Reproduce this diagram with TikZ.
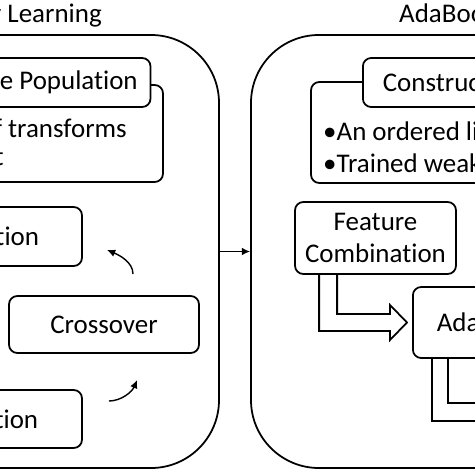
\documentclass[tikz,border=0pt]{standalone}
\usepackage{fontspec}
\setmainfont{Carlito}[Ligatures=NoCommon]
\usetikzlibrary{positioning, arrows.meta}
\tikzset{
x=0.03cm, y=-0.03cm, % one unit is one pixel of the sketch, y grows downwards
>={Latex[length=7pt,width=6.5pt]}, % the arrow tip of every arrow
every node/.append style={font=\fontsize{23}{27}\selectfont}, % text size
panel/.style={draw, line width=1.5pt, rounded corners=2.04cm, inner sep=0pt}, % the two big frames
stage/.style={draw, line width=1.5pt, rounded corners=0.25cm, fill=white, inner sep=0pt}, % boxes of the steps
hollow/.style={line width=1.5pt, line join=miter}, % outline of the wide arrows
}

\begin{document}
\begin{tikzpicture}
\useasboundingbox (0,0) rectangle (474,474);

% the two frames
\node[panel, minimum width=12.57cm, minimum height=12.99cm] (evo) at (9.5,251.5) {};
\node[panel, minimum width=12.57cm, minimum height=12.99cm] (boost) at (460.5,251.5) {};
\node[anchor=base east, inner sep=0pt] (evotitle) at (102,22) {Evolutionary Learning};
\node[anchor=base west, inner sep=0pt] (boosttitle) at (399,22) {AdaBoost};

\draw[->, line width=1.2pt] (evo) -- (boost);

% left frame
\node[stage, minimum width=8.1cm, minimum height=2.91cm] (popinfo) at (28,133.5) {};
\node[stage, minimum width=7.23cm, minimum height=1.47cm] (initpop) at (30,82.5) {Initialize Population};
\node[anchor=base east, inner sep=0pt] (popline1) at (127,137) {\textbullet A list of transforms};
\node[anchor=base east, inner sep=0pt] (popline2) at (4,165) {\textbullet Random list};

\node[stage, minimum width=5.64cm, minimum height=1.77cm] (mutation) at (-12,236.5) {Mutation};
\node[stage, minimum width=5.7cm, minimum height=1.71cm] (crossover) at (104,324.5) {Crossover};
\node[stage, minimum width=5.64cm, minimum height=1.74cm] (selection) at (-12,419) {Selection};

\coordinate (up1) at (133,274);
\coordinate (up2) at (107,250);
\coordinate (low1) at (109,401);
\coordinate (low2) at (137,380);
\draw[->, line width=1.2pt] (up1) .. controls +(0,-12) and +(12,5) .. (up2);
\draw[->, line width=1.2pt] (low1) .. controls +(12,0) and +(-5,12) .. (low2);

% right frame
\node[stage, minimum width=9.87cm, minimum height=3.03cm] (ensinfo) at (475.5,132.5) {};
\node[stage, anchor=west, minimum height=1.47cm, inner xsep=0.6cm, text width=8cm] (construct) at (362,82.5) {Construct Ensemble};
\node[anchor=west, align=left, inner sep=0pt] (enslines) at (323,147) {\textbullet An ordered list of transforms\\\textbullet Trained weak learners};

\node[stage, minimum width=4.83cm, minimum height=2.16cm, align=center] (featcomb) at (375.5,238) {Feature\\Combination};
\node[stage, anchor=west, minimum height=2.13cm, inner xsep=0.72cm, text width=6cm] (adaboost) at (412,322.5) {AdaBoost};

\coordinate (tip1) at ([xshift=-0.15cm]adaboost.west);
\draw[hollow] ([xshift=0.75cm]featcomb.south west) |- ([shift={(-17,8.5)}]tip1) -- ++(0,9) -- (tip1)
   -- ++(-17,-17.5) -- ++(0,9) -| ([xshift=1.29cm]featcomb.south west);
\draw[hollow] ([xshift=0.6cm]adaboost.south west) |- +(130,62);
\draw[hollow] ([xshift=1.08cm]adaboost.south west) |- +(120,44);
\end{tikzpicture}
\end{document}
